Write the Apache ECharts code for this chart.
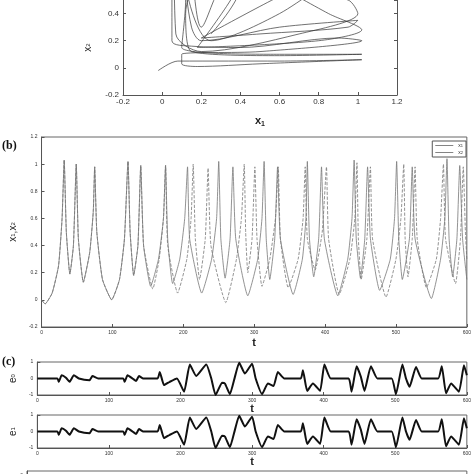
<!DOCTYPE html>
<html><head><meta charset="utf-8">
<script src="https://cdn.jsdelivr.net/npm/echarts@6/dist/echarts.min.js"></script>
<style>html,body{margin:0;padding:0;background:#fff}#c{width:474px;height:474px}</style>
</head><body><div id="c"></div>
<script>
const phaseXTicks=[-0.2,0,0.2,0.4,0.6,0.8,1,1.2];
const tTicks=[0,100,200,300,400,500,600];
const phase=[[-0.02,-0.02],[0.08,0.05],[0.6,0.05],[1.02,0.06],[0.5,0.03],[0.18,0.01],[0.1,0.03],[0.1,0.1],[0.5,0.12],[1.02,0.2],[0.9,0.22],[0.4,0.15],[0.15,0.16],[0.05,0.2],[0.05,1.1],[0.1,0.8],[0.15,0.3],[0.2,0.2],[0.6,0.3],[1.0,0.35],[0.95,0.3],[0.5,0.25],[0.2,0.22],[0.7,0.6],[0.9,0.7],[0.6,0.4],[0.25,0.2],[0.12,0.6],[0.1,1.1],[0.15,0.7],[0.2,0.3],[0.3,0.6],[0.5,0.9],[0.35,0.5],[0.18,0.15],[0.8,0.2],[1.02,0.28],[0.85,0.4],[0.6,0.6],[0.95,0.5],[1.0,0.4],[0.7,0.25],[0.2,0.12],[0.07,0.25],[0.06,0.9],[0.12,0.5],[0.1,0.15],[0.6,0.1],[1.02,0.1],[0.6,0.09],[0.15,0.12],[0.12,0.4],[0.3,0.9],[0.4,0.6],[0.25,0.25]];
const x1=[[0,0],[5,-0.03],[15,0.05],[24,0.25],[29,0.6],[32,1.03],[35,0.5],[40,0.19],[45,0.4],[49,1.0],[52,0.45],[59,0.13],[68,0.35],[73,0.65],[75,0.98],[78,0.5],[86,0.15],[99,0.0],[110,0.15],[117,0.45],[122,1.02],[125,0.5],[130,0.18],[136,0.4],[140,0.99],[144,0.4],[154,0.1],[165,0.3],[172,0.6],[175,0.99],[178,0.45],[185,0.12],[195,0.3],[202,0.6],[206,0.98],[209,0.45],[226,0.05],[240,0.3],[247,0.6],[250,1.02],[253,0.45],[259,0.16],[266,0.45],[270,0.98],[274,0.45],[291,0.03],[305,0.3],[311,0.6],[314,1.02],[317,0.45],[322,0.15],[329,0.45],[333,0.98],[337,0.45],[355,0.04],[368,0.3],[373,0.6],[375,1.02],[378,0.45],[384,0.17],[391,0.45],[395,0.98],[399,0.45],[418,0.03],[432,0.3],[438,0.6],[441,1.03],[444,0.45],[450,0.16],[456,0.45],[460,0.98],[464,0.45],[477,0.07],[492,0.3],[498,0.6],[501,1.02],[504,0.45],[509,0.15],[519,0.45],[523,0.98],[527,0.45],[550,0.01],[563,0.3],[569,0.6],[572,1.04],[575,0.45],[580,0.17],[586,0.45],[590,0.99],[594,0.45],[600,0.15]];
const x2=[[0,0],[5,-0.03],[15,0.05],[24,0.25],[29,0.6],[32,1.03],[35,0.5],[40,0.19],[45,0.4],[49,1.0],[52,0.45],[59,0.13],[68,0.35],[73,0.65],[75,0.98],[78,0.5],[86,0.15],[99,0.0],[110,0.15],[117,0.45],[122,1.02],[125,0.5],[130,0.18],[136,0.4],[140,0.99],[144,0.4],[157,0.08],[166,0.3],[172,0.6],[175,0.99],[178,0.4],[192,0.05],[205,0.3],[211,0.6],[214,1.0],[217,0.45],[223,0.15],[231,0.45],[235,0.97],[239,0.4],[260,-0.02],[275,0.3],[282,0.6],[286,1.0],[288,0.5],[291,0.2],[297,0.45],[301,0.98],[304,0.45],[311,0.1],[322,0.3],[330,0.6],[334,0.98],[337,0.45],[348,0.09],[362,0.3],[369,0.6],[372,0.98],[375,0.45],[386,0.22],[396,0.5],[402,0.98],[405,0.45],[420,0.04],[435,0.3],[442,0.6],[445,1.01],[447,0.45],[451,0.15],[459,0.45],[464,0.98],[467,0.45],[486,0.02],[500,0.3],[507,0.6],[511,1.0],[513,0.45],[517,0.17],[523,0.45],[527,0.98],[530,0.45],[543,0.09],[557,0.3],[563,0.6],[567,1.0],[570,0.45],[584,0.12],[591,0.45],[595,0.98],[598,0.5],[600,0.3]];
const e0=[[0,0],[28,0],[30,-0.2],[34,0.2],[40,0.05],[45,-0.2],[51,0.2],[58,0],[73,-0.1],[77,0.15],[85,0],[120,0],[122,-0.2],[126,0.2],[133,0],[138,-0.15],[142,0.15],[148,0],[168,0],[171,0.4],[177,-0.4],[185,-0.2],[195,0],[205,-0.8],[213,0.85],[222,0.15],[236,0.85],[243,0],[249,-1],[258,-0.25],[262,-0.3],[269,-0.95],[276,0.1],[282,0.95],[290,0.3],[300,0.9],[305,0],[314,-0.95],[322,-0.3],[330,-0.45],[336,0.4],[345,0],[368,0],[371,0.5],[377,-0.75],[385,-0.3],[395,-0.75],[401,0.85],[410,0],[435,0],[439,-0.8],[446,0.75],[452,0.1],[457,-0.75],[466,0.75],[475,0],[495,0],[501,-0.95],[510,0.85],[515,0],[520,-0.5],[529,0.7],[537,0],[560,0],[565,0.75],[571,-0.9],[578,-0.3],[589,-0.8],[596,0.8],[600,0.2]];
const e1=e0.map(p=>[p[0],p[1]]);
const B={show:true,borderColor:'#666',borderWidth:1};
const grids=[
 {left:123,width:274,top:0,height:95},
 {left:27,width:441,top:137,height:190,...B},
 {left:27,width:441,top:362,height:33,...B},
 {left:27,width:441,top:415,height:33,...B},
 {left:27,width:441,top:471,height:33,...B}];
const lab={fontSize:7,color:'#333',fontFamily:'Arial'};
const axLine={lineStyle:{color:'#555',width:1},onZero:false};
const tick={inside:true,length:3,lineStyle:{color:'#555'}};
function xa(i,min,max,iv,name,gap,tf){return {gridIndex:i,type:'value',min,max,interval:iv,axisLine:{show:true,...axLine},axisTick:tick,splitLine:{show:false},axisLabel:{...lab,fontSize:tf||7,margin:3},name:name,nameLocation:'middle',nameGap:gap,nameTextStyle:{fontSize:11,color:'#222',fontWeight:'bold',rich:{s:{fontSize:7,padding:[8,0,0,0]}}}};}
function ya(i,min,max,iv,name,gap,fs){return {gridIndex:i,type:'value',min,max,interval:iv,axisLine:{show:true,...axLine},axisTick:tick,splitLine:{show:false},axisLabel:{...lab,fontSize:fs||7,margin:4,formatter:v=>+v.toFixed(1)},name:name,nameLocation:'middle',nameGap:gap,nameRotate:90,nameTextStyle:{fontSize:10,color:'#222',rich:{s:{fontSize:6}}}};}
const xAxis=[xa(0,-0.2,1.2,0.2,'x{s|1}',18,8),xa(1,0,600,100,'t',10,5),xa(2,0,600,100,'t',8,5),xa(3,0,600,100,'t',8,5),xa(4,0,600,100,'',8,5)];
const yAxis=[ya(0,-0.2,0.5,0.2,'x{s|2}',28,8),ya(1,-0.2,1.2,0.2,'x{s|1},x{s|2}',14,5),ya(2,-1,1,1,'e{s|0}',12,5),ya(3,-1,1,1,'e{s|1}',12,5),ya(4,-1,1,1,'',12,5)];
yAxis[0].axisLabel.showMaxLabel=false;
yAxis[0].nameGap=30;
yAxis.push({gridIndex:0,type:'value',min:-0.2,max:0.5,interval:0.2,position:'right',axisLine:{show:true,...axLine},axisTick:tick,axisLabel:{show:false},splitLine:{show:false}});
const L=(d,xi,c,w,t,n)=>({type:'line',name:n,xAxisIndex:xi,yAxisIndex:xi,data:d,showSymbol:false,symbol:'none',smooth:0.15,clip:true,lineStyle:{color:c,width:w,type:t||'solid'},itemStyle:{color:c},animation:false});
const opt={animation:false,grid:grids,xAxis,yAxis,
 legend:{right:8,top:141,orient:'vertical',itemWidth:18,itemHeight:4,itemGap:2,padding:[2,3],borderColor:'#555',borderWidth:1,textStyle:{fontSize:5,color:'#333',rich:{s:{fontSize:4}}},data:['x1','x2'],formatter:n=>'x{s|'+n.slice(1)+'}',icon:'path://M0,0H10V0.5H0Z'},
 graphic:[
  {type:'text',left:2,top:140,style:{text:'(b)',font:'bold 12px "Liberation Serif"',fill:'#111'}},
  {type:'text',left:2,top:356,style:{text:'(c)',font:'bold 12px "Liberation Serif"',fill:'#111'}}],
 series:[
  {...L(phase,0,'#333',0.7),smooth:0.3},
  L(x1,1,'#777',0.8,'solid','x1'),
  L(x2,1,'#777',0.8,'dashed','x2'),
  L(e0,2,'#111',2),L(e1,3,'#111',2)]};
echarts.init(document.getElementById('c')).setOption(opt);
</script></body></html>
